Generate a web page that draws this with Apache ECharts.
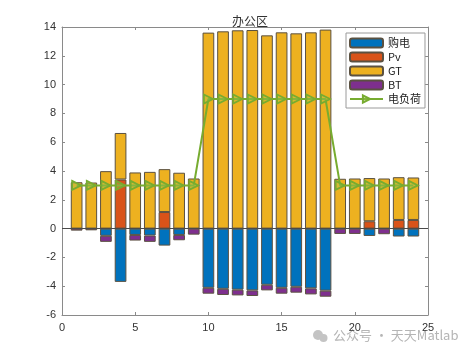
<!DOCTYPE html>
<html>
<head>
<meta charset="utf-8">
<script src="https://cdn.jsdelivr.net/npm/echarts@6/dist/echarts.min.js"></script>
<style>html,body{margin:0;padding:0;background:#fff;}#c{width:474px;height:355px;}</style>
</head>
<body>
<div id="c"></div>
<script>
var hours = [1,2,3,4,5,6,7,8,9,10,11,12,13,14,15,16,17,18,19,20,21,22,23,24];
var buyPower = [0,0,-0.5,-3.7,-0.44,-0.48,-1.18,-0.44,0, -4.11,-4.18,-4.24,-4.29,-3.9,-4.11,-4.04,-4.15,-4.31, 0,0,-0.51,0,-0.55,-0.55];
var pvPower = [0,0,0,3.41,0,0,1.15,0,0, 0,0,0,0,0,0,0,0,0, 0,0,0.51,0,0.6,0.6];
var gtPower = [3.22,3.2,3.99,3.23,3.9,3.94,2.98,3.88,3.48, 13.61,13.7,13.77,13.79,13.42,13.63,13.56,13.63,13.82, 3.46,3.48,3.0,3.48,2.97,2.95];
var btPower = [-0.14,-0.12,-0.42,0,-0.39,-0.44,0,-0.37,-0.42, -0.41,-0.43,-0.4,-0.39,-0.39,-0.41,-0.41,-0.42,-0.42, -0.37,-0.37,0,-0.39,0,0];
var loadPower = [3,3,3,3,3,3,3,3,3, 9,9,9,9,9,9,9,9,9, 3,3,3,3,3,3];
var seriesNames = ['购电','Pv','GT','BT','电负荷'];
var xTicks = [0,5,10,15,20,25];
var yTicks = [-6,-4,-2,0,2,4,6,8,10,12,14];

var colors = ['#0072BD','#D95319','#EDB120','#7E2F8E','#77AC30'];
var axisGray = '#8a8a8a';
var font = 'Liberation Sans, Arial, sans-serif';

// category slots 0..25 so that bars sit on integer hours
var slots = [];
for (var s = xTicks[0]; s <= xTicks[xTicks.length-1]; s++) slots.push(String(s));
function toSlots(arr){
  var out = slots.map(function(){ return '-'; });
  hours.forEach(function(h,i){ out[h] = arr[i] === 0 ? '-' : arr[i]; });
  return out;
}
var barArrays = [buyPower, pvPower, gtPower, btPower];
var series = barArrays.map(function(arr, k){
  return {
    name: seriesNames[k], type: 'bar', stack: 'total', barWidth: '80%',
    data: toSlots(arr),
    itemStyle: {color: colors[k], borderColor: '#5b5141', borderWidth: 1},
    emphasis: {disabled: true}, animation: false
  };
});
series[0].markLine = {
  silent: true, symbol: 'none', label: {show: false},
  lineStyle: {color: '#4a4a4a', width: 1, type: 'solid'},
  data: [{yAxis: 0}], animation: false
};
series.push({
  name: seriesNames[4], type: 'line', z: 5,
  data: toSlots(loadPower),
  symbol: 'path://M0,0 L10,5 L0,10 Z', symbolSize: [9, 9],
  lineStyle: {color: colors[4], width: 2},
  itemStyle: {color: 'rgba(160,200,90,0.35)', borderColor: colors[4], borderWidth: 1.8},
  emphasis: {disabled: true}, animation: false
});

var chart = echarts.init(document.getElementById('c'));
chart.setOption({
  animation: false,
  backgroundColor: '#fff',
  title: {
    text: '办公区', left: 227, top: 10,
    textStyle: {fontFamily: 'Noto Sans CJK SC', fontSize: 12, fontWeight: 'normal', color: '#333'}
  },
  grid: {left: 62, top: 27, width: 366, height: 288, containLabel: false},
  legend: {
    orient: 'vertical', left: 346, top: 33,
    padding: [3, 4, 2, 3], itemGap: 0, itemWidth: 33, itemHeight: 9,
    borderColor: '#9a9a9a', borderWidth: 1, borderRadius: 0,
    backgroundColor: '#fff',
    textStyle: {fontSize: 11, lineHeight: 14, color: '#222', fontFamily: 'Noto Sans CJK SC'},
    data: seriesNames
  },
  xAxis: [{
    type: 'category', data: slots, boundaryGap: false,
    position: 'bottom',
    axisLine: {show: true, onZero: false, lineStyle: {color: axisGray, width: 1}},
    axisTick: {show: true, inside: true, length: 3, interval: 4, alignWithLabel: true, lineStyle: {color: axisGray}},
    axisLabel: {color: '#333', fontSize: 11, fontFamily: font, margin: 7, interval: 4},
    splitLine: {show: false}
  },{
    type: 'value', min: xTicks[0], max: xTicks[xTicks.length-1], interval: 5,
    position: 'top',
    axisLine: {show: true, onZero: false, lineStyle: {color: axisGray, width: 1}},
    axisTick: {show: true, inside: true, length: 3, lineStyle: {color: axisGray}},
    axisLabel: {show: false}, splitLine: {show: false}
  }],
  yAxis: [{
    type: 'value', min: yTicks[0], max: yTicks[yTicks.length-1], interval: 2,
    position: 'left',
    axisLine: {show: true, onZero: false, lineStyle: {color: axisGray, width: 1}},
    axisTick: {show: true, inside: true, length: 3, lineStyle: {color: axisGray}},
    axisLabel: {color: '#333', fontSize: 11, fontFamily: font, margin: 6},
    splitLine: {show: false}
  },{
    type: 'value', min: yTicks[0], max: yTicks[yTicks.length-1], interval: 2,
    position: 'right',
    axisLine: {show: true, onZero: false, lineStyle: {color: axisGray, width: 1}},
    axisTick: {show: true, inside: true, length: 3, lineStyle: {color: axisGray}},
    axisLabel: {show: false}, splitLine: {show: false}
  }],
  series: series,
  graphic: [{
    type: 'group', left: 313, top: 329,
    children: [
      {type: 'circle', shape: {cx: 5, cy: 6, r: 5}, style: {fill: '#c4c4c4'}},
      {type: 'circle', shape: {cx: 10.5, cy: 9, r: 4}, style: {fill: '#c4c4c4'}},
      {type: 'text', style: {x: 20, y: 0, text: '公众号 · 天天Matlab', fill: '#b5b5b5', fontSize: 13, fontFamily: 'Noto Sans CJK SC'}}
    ]
  }]
});
</script>
</body>
</html>
